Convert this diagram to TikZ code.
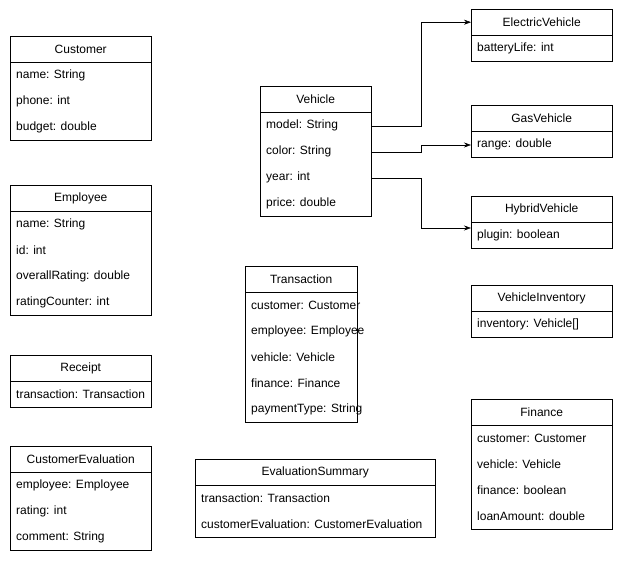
\documentclass[tikz,border=0pt]{standalone}
\usepackage{fontspec}
\setmainfont{Liberation Sans}
\usetikzlibrary{calc,arrows.meta}

\tikzset{
    head/.style={draw, inner sep=0pt, minimum height=26pt, font=\fontsize{12}{14}\selectfont},
    row/.style={inner sep=0pt, anchor=west, font=\fontsize{12}{14}\selectfont},
    link/.style={-{Stealth[length=7pt,width=5pt]}, line width=0.6pt}
}

% class box: name, x, y, width, rows, title, row texts
\newcommand{\umlclass}[7]{
    \node[head, minimum width=#4pt, anchor=north west] (#1) at (#2,#3) {#6};
    \draw (#1.south west) rectangle ++(#4,{26*#5});
    \foreach \txt [count=\i] in {#7}
        \node[row] (#1-\i) at ($(#1.south west)+(6,{13+26*(\i-1)})$) {\txt};
}

\begin{document}
\begin{tikzpicture}[x=1pt, y=-1pt]
    \useasboundingbox (0,0) rectangle (621,564);
    \umlclass{cust}{10}{36}{141}{3}{Customer}{name: String, phone: int, budget: double}
    \umlclass{emp}{10}{185}{141}{4}{Employee}{name: String, id: int, overallRating: double, ratingCounter: int}
    \umlclass{rec}{10}{355}{141}{1}{Receipt}{transaction: Transaction}
    \umlclass{eval}{10}{446}{141}{3}{CustomerEvaluation}{employee: Employee, rating: int, comment: String}
    \umlclass{veh}{260}{86}{111}{4}{Vehicle}{model: String, color: String, year: int, price: double}
    \umlclass{trans}{245}{266}{112}{5}{Transaction}{customer: Customer, employee: Employee, vehicle: Vehicle, finance: Finance, paymentType: String}
    \umlclass{summ}{195}{459}{240}{2}{EvaluationSummary}{transaction: Transaction, customerEvaluation: CustomerEvaluation}
    \umlclass{elec}{471}{9}{141}{1}{ElectricVehicle}{batteryLife: int}
    \umlclass{gas}{471}{105}{141}{1}{GasVehicle}{range: double}
    \umlclass{hyb}{471}{196}{141}{1}{HybridVehicle}{plugin: boolean}
    \umlclass{inv}{471}{285}{141}{1}{VehicleInventory}{inventory: Vehicle[]}
    \umlclass{fin}{471}{399}{141}{4}{Finance}{customer: Customer, vehicle: Vehicle, finance: boolean, loanAmount: double}

    % subclasses
    \coordinate (vehA) at (371,126);
    \coordinate (vehB) at (371,152);
    \coordinate (vehC) at (371,178);
    \draw[link] (vehA) -- (421,126) |- (elec.west);
    \draw[link] (vehB) -- (421,152) |- (471,145);
    \draw[link] (vehC) -- (421,178) |- (471,228);
\end{tikzpicture}
\end{document}
